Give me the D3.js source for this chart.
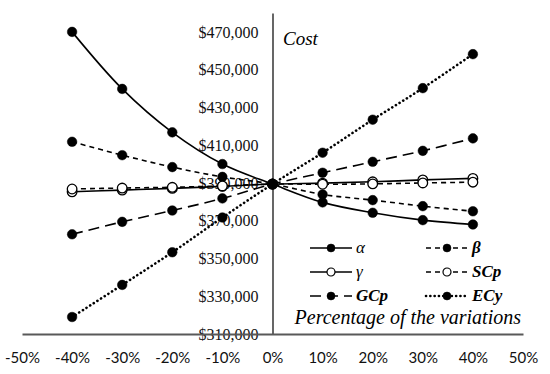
<!DOCTYPE html>
<html>
<head>
<meta charset="utf-8">
<script src="https://cdn.jsdelivr.net/npm/d3@7"></script>
<style>
  body { margin: 0; background: #fff; }
  svg { display: block; }
</style>
</head>
<body>
<svg id="chart"></svg>
<script>
const variations = [-0.4, -0.3, -0.2, -0.1, 0, 0.1, 0.2, 0.3, 0.4];
const xTicks = [-0.5, -0.4, -0.3, -0.2, -0.1, 0, 0.1, 0.2, 0.3, 0.4, 0.5];
const yTicks = [310000, 330000, 350000, 370000, 390000, 410000, 430000, 450000, 470000];

const alpha = [470000, 439800, 416800, 400000, 389400, 379700, 374200, 370300, 368000];
const beta = [411800, 404700, 398400, 393200, 389400, 383900, 380900, 377700, 375000];
const gamma = [385300, 386200, 387100, 388200, 389400, 389900, 390600, 391600, 392400];
const scp = [386800, 387300, 387700, 388400, 389400, 389300, 389500, 390000, 390400];
const gcp = [362800, 369400, 375400, 381800, 389400, 395400, 401200, 407000, 413600];
const ecy = [319000, 336000, 353300, 371700, 389400, 406000, 423500, 440200, 458200];

const seriesNames = ["α", "β", "γ", "SCp", "GCp", "ECy"];

const width = 550;
const height = 374;

// line style per series (dash pattern, open marker)
const styles = {
  "α": { dash: null, open: false, bold: false },
  "β": { dash: "5,4", open: false, bold: true },
  "γ": { dash: null, open: true, bold: false },
  "SCp": { dash: "5,4", open: true, bold: true },
  "GCp": { dash: "11,6", open: false, bold: true },
  "ECy": { dash: "0.1,4.2", open: false, bold: true, dotted: true },
};

const series = [alpha, beta, gamma, scp, gcp, ecy].map((values, i) => ({
  name: seriesNames[i],
  points: values.map((v, j) => ({ x: variations[j], y: v })),
}));

const chart = d3.select("#chart").attr("width", width).attr("height", height);

const xScale = d3.scaleLinear().domain([-0.5, 0.5]).range([22, 523]);
const yScale = d3.scaleLinear().domain([310000, 480000]).range([334, 13]);

// y axis (vertical line at 0%)
const yAxis = chart
  .append("g")
  .attr("transform", `translate(${xScale(0)}, 0)`)
  .call(
    d3.axisLeft(yScale)
      .tickValues(yTicks)
      .tickSize(0)
      .tickPadding(14)
      .tickFormat(d3.format("$,"))
  );
yAxis.select(".domain").attr("stroke", "#000").attr("stroke-width", 1.2);
yAxis
  .selectAll("text")
  .style("font-family", "'Liberation Serif', 'Times New Roman', serif")
  .style("font-size", "16px")
  .attr("fill", "#111");

// x axis at the bottom value
const pct = d3.format(".0%");
const xAxis = chart
  .append("g")
  .attr("transform", `translate(0, ${yScale(310000)})`)
  .call(
    d3.axisBottom(xScale)
      .tickValues(xTicks)
      .tickSize(0)
      .tickPadding(18)
      .tickFormat((d) => pct(d).replace("−", "-"))
  );
xAxis.select(".domain").attr("stroke", "#595959").attr("stroke-width", 2);
xAxis
  .selectAll("text")
  .style("font-family", "Lato, 'Open Sans', sans-serif")
  .style("font-size", "15px")
  .attr("fill", "#111");

const line = d3
  .line()
  .x((d) => xScale(d.x))
  .y((d) => yScale(d.y))
  .curve(d3.curveCatmullRom.alpha(0.5));

const lines = chart.append("g");

series.forEach((s) => {
  const st = styles[s.name];
  lines
    .append("path")
    .datum(s.points)
    .attr("d", line)
    .attr("fill", "none")
    .attr("stroke", "#000")
    .attr("stroke-width", st.dotted ? 2.6 : 1.6)
    .attr("stroke-linecap", st.dotted ? "round" : "butt")
    .attr("stroke-dasharray", st.dash);
});

series.forEach((s) => {
  const st = styles[s.name];
  lines
    .append("g")
    .selectAll("circle")
    .data(s.points)
    .enter()
    .append("circle")
    .attr("cx", (d) => xScale(d.x))
    .attr("cy", (d) => yScale(d.y))
    .attr("r", 4.8)
    .attr("fill", st.open ? "#fff" : "#000")
    .attr("stroke", "#000")
    .attr("stroke-width", st.open ? 1.3 : 0.5);
});

// axis titles
chart
  .append("text")
  .text("Cost")
  .attr("x", 283)
  .attr("y", 45)
  .style("font-family", "'Liberation Serif', 'Times New Roman', serif")
  .style("font-style", "italic")
  .style("font-size", "19px");

chart
  .append("text")
  .text("Percentage of the variations")
  .attr("x", 521)
  .attr("y", 324)
  .style("text-anchor", "end")
  .style("font-family", "'Liberation Serif', 'Times New Roman', serif")
  .style("font-style", "italic")
  .style("font-size", "20px");

// legend: 2 columns x 3 rows
const legend = chart.append("g").attr("id", "legend");
const colX = [310, 426];
const rowY = [248, 272, 296];
const symLen = 42;

const items = legend
  .selectAll("g")
  .data(series)
  .enter()
  .append("g")
  .attr("transform", (_, i) => `translate(${colX[i % 2]}, ${rowY[Math.floor(i / 2)]})`);

items
  .append("line")
  .attr("x1", 0)
  .attr("x2", symLen)
  .attr("stroke", "#000")
  .attr("stroke-width", (d) => (styles[d.name].dotted ? 2.6 : 1.6))
  .attr("stroke-linecap", (d) => (styles[d.name].dotted ? "round" : "butt"))
  .attr("stroke-dasharray", (d) => styles[d.name].dash);

items
  .append("circle")
  .attr("cx", symLen / 2)
  .attr("r", 4)
  .attr("fill", (d) => (styles[d.name].open ? "#fff" : "#000"))
  .attr("stroke", "#000")
  .attr("stroke-width", (d) => (styles[d.name].open ? 1.2 : 0.5));

items
  .append("text")
  .text((d) => d.name)
  .attr("x", symLen + 4)
  .attr("y", 5)
  .style("font-family", "'Liberation Serif', 'Times New Roman', serif")
  .style("font-style", "italic")
  .style("font-weight", (d) => (styles[d.name].bold ? "bold" : "normal"))
  .style("font-size", "17px");
</script>
</body>
</html>
